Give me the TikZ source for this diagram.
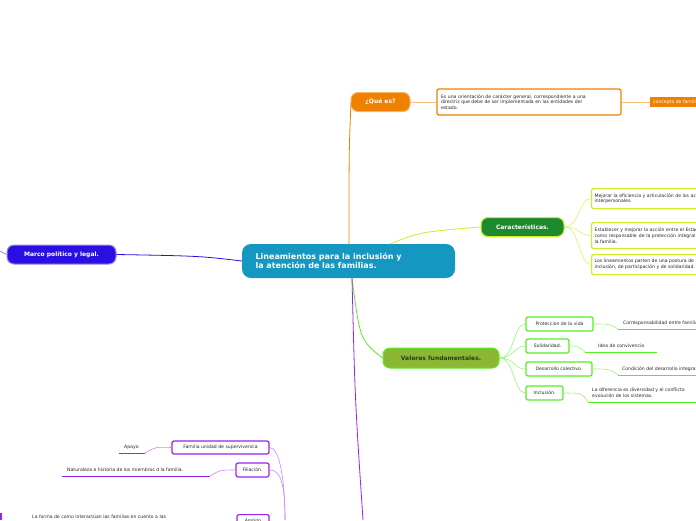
\documentclass[tikz,border=0pt]{standalone}
\usepackage{fontspec}
\setmainfont{DejaVu Sans}
\begin{document}
\begin{tikzpicture}[x=1pt,y=-1pt,
 box/.style={draw,rounded corners=2pt,line width=1.2pt,fill=white,inner sep=0pt,align=left,font=\fontsize{4.6}{5.8}\selectfont,text=black!85},
 main/.style={rounded corners=7pt,draw=white,line width=1pt,text=white,font=\bfseries\fontsize{6}{7.5}\selectfont,inner sep=0pt},
 leaf/.style={font=\fontsize{4.6}{5.8}\selectfont,text=black!85,align=left,anchor=west,inner sep=0pt}]
\definecolor{teal1}{HTML}{1497C0}
\definecolor{org}{HTML}{F08000}
\definecolor{dgreen}{HTML}{1E8A2E}
\definecolor{ygreen}{HTML}{CCEE22}
\definecolor{olive}{HTML}{8AB833}
\definecolor{bgreen}{HTML}{55EE22}
\definecolor{blu}{HTML}{2A10E0}
\definecolor{purp}{HTML}{9922EE}
\definecolor{lpurp}{HTML}{CC88FF}
\useasboundingbox (0,0) rectangle (696,520);
% central
\node[fill=teal1,rounded corners=9pt,minimum width=213pt,minimum height=34pt,inner sep=0pt,text=white,font=\bfseries\fontsize{8}{9.5}\selectfont,align=left] (c) at (348.5,261) {\hspace*{-40pt}Lineamientos para la inclusión y\\\hspace*{-40pt}la atención de las familias.};
% orange
\node[main,fill=org,draw=org!60,minimum width=59pt,minimum height=19pt] (q) at (380.5,102) {¿Qué es?};
\node[box,draw=org,minimum width=184pt,minimum height=26pt,text width=176pt] (qt) at (529,102) {Es una orientación de carácter general, correspondiente a una\\directriz que debe de ser implementada en las entidades del\\estado.};
\node[fill=org,text=white,font=\fontsize{4.6}{5.8}\selectfont,anchor=west,minimum height=10pt,inner sep=3pt] (cf) at (650,102) {concepto de familia};
\draw[org,line width=0.8pt] (349,244) .. controls (349,150) .. (351,102);
\draw[org!50,line width=0.8pt] (q.east) -- (qt.west);
\draw[org!50,line width=0.8pt] (qt.east) -- (cf.west);
% caracteristicas
\node[main,fill=dgreen,draw=ygreen,minimum width=83pt,minimum height=19pt] (ca) at (522.5,227) {Características.};
\draw[ygreen,line width=0.8pt] (390,244) .. controls (420,232) .. (ca.west);
\node[box,draw=ygreen,anchor=north west,minimum height=20pt,text width=120pt,inner sep=3pt] (c1) at (591,188) {Mejorar la eficiencia y articulación de los actores\\interpersonales.};
\node[box,draw=ygreen,anchor=north west,minimum height=26pt,text width=120pt,inner sep=3pt] (c2) at (591,222) {Establecer y mejorar la acción entre el Estado\\como responsable\, de la protección integral de\\la familia.};
\node[box,draw=ygreen,anchor=north west,minimum height=20pt,text width=120pt,inner sep=3pt] (c3) at (591,254) {Los lineamientos parten de una postura de\\inclusión, de participación y de solidaridad.};
\foreach \n in {c1,c2,c3} \draw[ygreen!70,line width=0.6pt] (ca.east) .. controls +(15,0) and +(-12,0) .. (\n.west);
% valores
\node[main,fill=olive,draw=bgreen,minimum width=116pt,minimum height=20pt,text=black!80] (v) at (441,358) {Valores fundamentales.};
\draw[bgreen,line width=0.8pt] (352,278) .. controls (360,340) .. (v.west);
\node[box,draw=bgreen,minimum width=67pt,minimum height=14pt] (v1) at (559.5,324) {Proteccion de la vida};
\node[box,draw=bgreen,minimum width=43pt,minimum height=14pt] (v2) at (547.5,346) {Solidaridad.};
\node[box,draw=bgreen,minimum width=66pt,minimum height=14pt] (v3) at (559,369) {Desarrollo colectivo.};
\node[box,draw=bgreen,minimum width=37pt,minimum height=14pt] (v4) at (544.5,393) {Inclusión.};
\foreach \n in {v1,v2,v3,v4} \draw[bgreen!60,line width=0.6pt] (v.east) .. controls +(15,0) and +(-12,0) .. (\n.west);
\node[leaf] (l1) at (623,323) {Corresponsabilidad entre familia};
\node[leaf] (l2) at (598,346) {Idea de convivencia};
\node[leaf] (l3) at (622,369) {Condición del desarrollo integral};
\node[leaf] (l4) at (592,392.5) {La diferencia es diversidad y el conflicto\\evolución de los sistemas.};
\draw[bgreen,line width=1pt] (618,329) -- (700,329);
\draw[bgreen,line width=1pt] (585,352) -- (657,352);
\draw[bgreen,line width=1pt] (618,375) -- (700,375);
\draw[bgreen,line width=1pt] (588,402) -- (700,402);
\draw[bgreen!60,line width=0.6pt] (v1.east) .. controls (610,324) .. (618,329);
\draw[bgreen!60,line width=0.6pt] (v2.east) .. controls (578,346) .. (585,352);
\draw[bgreen!60,line width=0.6pt] (v3.east) .. controls (610,369) .. (618,375);
\draw[bgreen!60,line width=0.6pt] (v4.east) .. controls (582,393) .. (588,402);
% marco
\node[main,fill=blu,draw=blu!50,minimum width=109pt,minimum height=19pt] (m) at (61.5,254.5) {Marco político y legal.};
\draw[blu,line width=0.8pt] (c.west) .. controls (200,256) .. (m.east);
\coordinate (mo) at (0,251);
\draw[blu!60,line width=0.6pt] (m.west) -- (mo);
% purple
\coordinate (pe) at (363,520);
\draw[purp,line width=0.8pt] (352,278) .. controls (355,400) .. (pe);
\node[box,draw=purp,minimum width=97pt,minimum height=13pt] (p1) at (220.5,447.5) {Familia unidad de supervivencia};
\node[box,draw=purp,minimum width=33pt,minimum height=14pt] (p2) at (252.5,470) {Filiación.};
\node[box,draw=purp,minimum width=32pt,minimum height=12pt,anchor=north] (p3) at (253,514) {Ámbito};
\coordinate (pb) at (285,520);
\foreach \n in {p1,p2} \draw[lpurp,line width=0.6pt] (\n.east) .. controls +(10,0) and +(0,-40) .. (pb);
\node[leaf] (a1) at (124,447) {Apoyo};
\draw[purp,line width=1pt] (119,453) -- (145,453);
\draw[lpurp,line width=0.6pt] (p1.west) .. controls (155,447) .. (145,453);
\node[leaf] (a2) at (67,469.5) {Naturaleza e historia de los miembros d la familia.};
\draw[purp,line width=1pt] (62,476) -- (210,476);
\draw[lpurp,line width=0.6pt] (p2.west) .. controls (220,470) .. (210,476);
\node[leaf] (a3) at (32,517) {La forma de como interactúan las familias en cuento a las};
\fill[purp] (0,513) rectangle (2,520);
\end{tikzpicture}
\end{document}
